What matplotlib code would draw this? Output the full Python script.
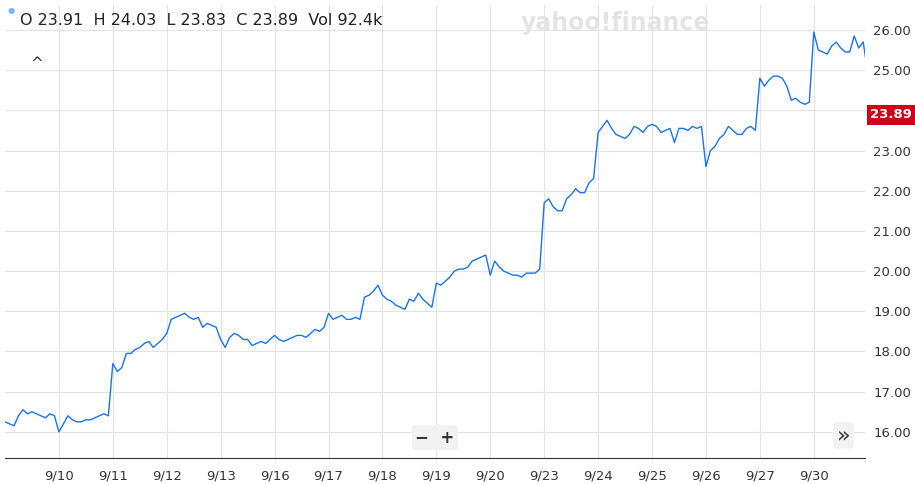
import numpy as np
import matplotlib.pyplot as plt

# trading days shown, intraday prices per day
days = ["9/9", "9/10", "9/11", "9/12", "9/13", "9/16", "9/17", "9/18",
        "9/19", "9/20", "9/23", "9/24", "9/25", "9/26", "9/27", "9/30"]
prices = [
    [16.25, 16.2, 16.15, 16.4, 16.55, 16.45, 16.5, 16.45, 16.4, 16.35, 16.45, 16.4],
    [16.0, 16.2, 16.4, 16.3, 16.25, 16.25, 16.3, 16.3, 16.35, 16.4, 16.45, 16.4],
    [17.7, 17.5, 17.6, 17.95, 17.95, 18.05, 18.1, 18.2, 18.25, 18.1, 18.2, 18.3],
    [18.45, 18.8, 18.85, 18.9, 18.95, 18.85, 18.8, 18.85, 18.6, 18.7, 18.65, 18.6],
    [18.3, 18.1, 18.35, 18.45, 18.4, 18.3, 18.3, 18.15, 18.2, 18.25, 18.2, 18.3],
    [18.4, 18.3, 18.25, 18.3, 18.35, 18.4, 18.4, 18.35, 18.45, 18.55, 18.5, 18.6],
    [18.95, 18.8, 18.85, 18.9, 18.8, 18.8, 18.85, 18.8, 19.35, 19.4, 19.5, 19.65],
    [19.4, 19.3, 19.25, 19.15, 19.1, 19.05, 19.3, 19.25, 19.45, 19.3, 19.2, 19.1],
    [19.7, 19.65, 19.75, 19.85, 20.0, 20.05, 20.05, 20.1, 20.25, 20.3, 20.35, 20.4],
    [19.9, 20.25, 20.1, 20.0, 19.95, 19.9, 19.9, 19.85, 19.95, 19.95, 19.95, 20.05],
    [21.7, 21.8, 21.6, 21.5, 21.5, 21.8, 21.9, 22.05, 21.95, 21.95, 22.2, 22.3],
    [23.45, 23.6, 23.75, 23.55, 23.4, 23.35, 23.3, 23.4, 23.6, 23.55, 23.45, 23.6],
    [23.65, 23.6, 23.45, 23.5, 23.55, 23.2, 23.55, 23.55, 23.5, 23.6, 23.55, 23.6],
    [22.6, 23.0, 23.1, 23.3, 23.4, 23.6, 23.5, 23.4, 23.4, 23.55, 23.6, 23.5],
    [24.8, 24.6, 24.75, 24.85, 24.85, 24.8, 24.6, 24.25, 24.3, 24.2, 24.15, 24.2],
    [25.95, 25.5, 25.45, 25.4, 25.6, 25.7, 25.55, 25.45, 25.45, 25.85, 25.55, 25.7, 24.95],
]
last_close = 23.89
y_ticks = [16, 17, 18, 19, 20, 21, 22, 23, 24, 25, 26]

xs, ys = [], []
for i, day in enumerate(prices):
    n = 12
    for k, v in enumerate(day):
        xs.append(i + k / n)
        ys.append(v)

fig = plt.figure(figsize=(9.15, 4.84), dpi=100)
ax = fig.add_axes([5 / 915, 26 / 484, 860 / 915, 453 / 484])
ax.plot(xs, ys, color="#1a73e8", lw=1.0)
ax.set_xlim(0, 15.95)
ax.set_ylim(15.35, 26.62)

ax.set_xticks(range(1, len(days)))
ax.set_xticklabels(days[1:])
ax.set_yticks(y_ticks)
ax.set_yticklabels([f"{v:.2f}" for v in y_ticks])
ax.yaxis.tick_right()
ax.tick_params(axis="both", length=0, labelsize=9.5, colors="#333333")
ax.tick_params(axis="x", pad=8)
ax.tick_params(axis="y", pad=6)
ax.grid(True, color="#e3e3e3", lw=0.8)
for s in ["top", "left", "right"]:
    ax.spines[s].set_visible(False)
ax.spines["bottom"].set_color("#333333")

# header and decorations
ax.text(0.017, 0.965, "O 23.91  H 24.03  L 23.83  C 23.89  Vol 92.4k",
        transform=ax.transAxes, fontsize=11.5, color="#222222", va="center")
ax.text(0.03, 0.86, "^", transform=ax.transAxes, fontsize=11, color="#333333")
ax.text(0.82, 0.96, "yahoo!finance", transform=ax.transAxes, fontsize=17,
        fontweight="bold", color="#e4e4e4", ha="right", va="center")
ax.text(1.0 + 26 / 860, last_close, f"{last_close:.2f}", transform=ax.get_yaxis_transform(),
        fontsize=9.5, fontweight="bold", color="white", ha="center", va="center",
        bbox=dict(boxstyle="square,pad=0.25", fc="#d0021b", ec="none"))
ax.text(0.5, 0.045, "−  +", transform=ax.transAxes, fontsize=12, fontweight="bold",
        color="#333333", ha="center", va="center",
        bbox=dict(boxstyle="round,pad=0.2", fc="#f2f2f2", ec="none"))
ax.text(0.975, 0.05, "»", transform=ax.transAxes, fontsize=16, color="#333333",
        ha="center", va="center",
        bbox=dict(boxstyle="round,pad=0.15", fc="#f2f2f2", ec="none"))
fig.text(8 / 915, 1 - 10 / 484, "●", color="#7ab8f5", fontsize=6, va="center")

fig.savefig("out.png", dpi=100)
